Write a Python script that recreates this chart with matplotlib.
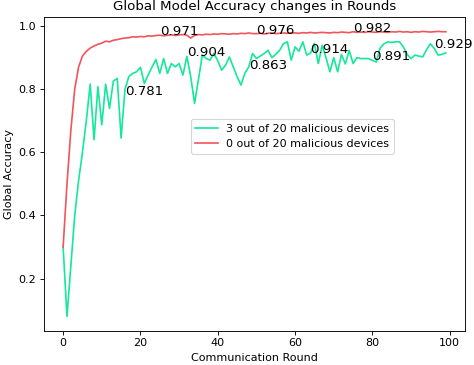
import numpy as np
from matplotlib import pyplot as plt

# accuracy per communication round
rounds = list(range(100))

acc_malicious = [
    0.30, 0.08, 0.24, 0.40, 0.51, 0.60, 0.70, 0.816, 0.64, 0.808,
    0.687, 0.816, 0.739, 0.826, 0.834, 0.645, 0.80, 0.84, 0.85, 0.855,
    0.869, 0.818, 0.845, 0.87, 0.894, 0.85, 0.897, 0.85, 0.881, 0.871,
    0.881, 0.845, 0.904, 0.84, 0.755, 0.83, 0.908, 0.897, 0.892, 0.913,
    0.89, 0.86, 0.876, 0.902, 0.871, 0.84, 0.813, 0.85, 0.87, 0.913,
    0.897, 0.905, 0.913, 0.923, 0.90, 0.91, 0.923, 0.944, 0.95, 0.892,
    0.934, 0.92, 0.95, 0.908, 0.914, 0.945, 0.881, 0.939, 0.90, 0.855,
    0.90, 0.855, 0.91, 0.88, 0.923, 0.881, 0.90, 0.897, 0.897, 0.897,
    0.891, 0.886, 0.93, 0.944, 0.95, 0.948, 0.95, 0.95, 0.934, 0.91,
    0.897, 0.908, 0.905, 0.902, 0.925, 0.944, 0.929, 0.908, 0.91, 0.915,
]

acc_clean = [
    0.30, 0.50, 0.67, 0.80, 0.87, 0.905, 0.92, 0.93, 0.937, 0.942,
    0.946, 0.952, 0.950, 0.955, 0.957, 0.960, 0.962, 0.963, 0.966, 0.965,
    0.967, 0.966, 0.969, 0.968, 0.970, 0.971, 0.969, 0.971, 0.972, 0.970,
    0.972, 0.973, 0.971, 0.962, 0.970, 0.973, 0.972, 0.974, 0.973, 0.975,
    0.974, 0.976, 0.975, 0.974, 0.976, 0.975, 0.977, 0.976, 0.978, 0.976,
    0.976, 0.977, 0.975, 0.977, 0.978, 0.976, 0.977, 0.978, 0.977, 0.979,
    0.978, 0.977, 0.979, 0.978, 0.980, 0.978, 0.979, 0.980, 0.979, 0.978,
    0.980, 0.979, 0.981, 0.980, 0.979, 0.982, 0.980, 0.981, 0.980, 0.982,
    0.981, 0.980, 0.982, 0.981, 0.980, 0.982, 0.981, 0.983, 0.981, 0.982,
    0.980, 0.982, 0.981, 0.983, 0.982, 0.981, 0.982, 0.983, 0.982, 0.982,
]

# annotated points
malicious_label_rounds = [16, 32, 48, 64, 80, 96]
malicious_label_vals = [0.781, 0.904, 0.863, 0.914, 0.891, 0.929]
clean_label_rounds = [25, 50, 75]
clean_label_vals = [0.971, 0.976, 0.982]

fig = plt.figure(figsize=(474 / 80, 365 / 80), dpi=80)
ax = fig.add_axes([0.0928, 0.094, 0.8882, 0.859])

ax.plot(rounds, acc_malicious, color="#14e89a", label="3 out of 20 malicious devices")
ax.plot(rounds, acc_clean, color="#f2545b", label="0 out of 20 malicious devices")

for r, v in zip(malicious_label_rounds, malicious_label_vals):
    ax.text(r, v, f"{v:.3f}", fontsize=12)
for r, v in zip(clean_label_rounds, clean_label_vals):
    ax.text(r, v, f"{v:.3f}", fontsize=12)

ax.set_title("Global Model Accuracy changes in Rounds")
ax.set_xlabel("Communication Round")
ax.set_ylabel("Global Accuracy")
ax.legend(loc="center", bbox_to_anchor=(0.59, 0.62))

fig.savefig("out.png", dpi=80)
